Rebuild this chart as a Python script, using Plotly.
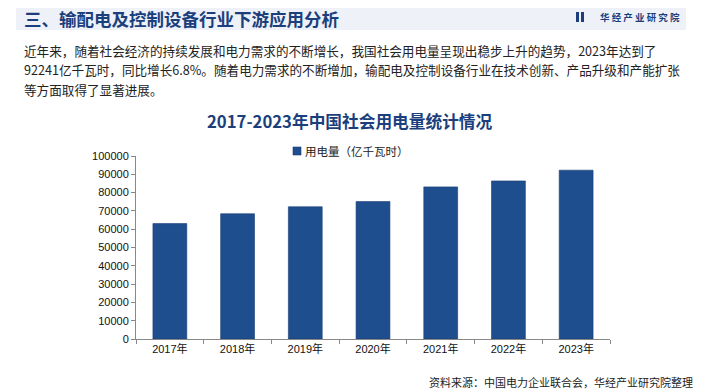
import plotly.graph_objects as go

years = ["2017年", "2018年", "2019年", "2020年", "2021年", "2022年", "2023年"]
consumption = [63077, 68449, 72255, 75110, 83128, 86372, 92241]
series_name = "用电量（亿千瓦时）"
y_ticks = [0, 10000, 20000, 30000, 40000, 50000, 60000, 70000, 80000, 90000, 100000]

header = "三、输配电及控制设备行业下游应用分析"
paragraph = ["近年来，随着社会经济的持续发展和电力需求的不断增长，我国社会用电量呈现出稳步上升的趋势，2023年达到了",
             "92241亿千瓦时，同比增长6.8%。随着电力需求的不断增加，输配电及控制设备行业在技术创新、产品升级和产能扩张",
             "等方面取得了显著进展。"]
chart_title = "2017-2023年中国社会用电量统计情况"
source = "资料来源：中国电力企业联合会，华经产业研究院整理"
brand = "华 经 产 业 研 究 院"

CJK = "Noto Sans CJK SC"
BAR = "#1f4e8f"
DARK = "#1b3f7d"

W, H = 704, 392
OFF = 8  # page body margin offset
# plot area in page pixels
L, R, T, B = 136, 610, 156, 339
PW, PH = R - L, B - T

def px(x):
    return (x - L) / PW

def py(y):
    return (B - y) / PH

fig = go.Figure()
fig.add_trace(go.Bar(x=years, y=consumption, name=series_name,
                     marker=dict(color=BAR, line=dict(color="#173d73", width=0.6)), showlegend=False))

fig.update_layout(
    width=W, height=H,
    margin=dict(l=L - OFF, r=W - (R - OFF), t=T - OFF, b=H - (B - OFF), autoexpand=False),
    paper_bgcolor="white", plot_bgcolor="white",
    bargap=0.5,
    showlegend=False,
    xaxis=dict(showline=True, linecolor="#888", linewidth=1, ticks="outside", ticklen=4, tickcolor="#888",
               tickson="boundaries", tickfont=dict(family="Liberation Sans, " + CJK, size=11, color="#111"),
               showgrid=False, automargin=False),
    yaxis=dict(range=[0, 100000], tickvals=y_ticks, showline=True, linecolor="#888", linewidth=1,
               ticks="outside", ticklen=4, tickcolor="#888", showgrid=False, zeroline=False,
               tickfont=dict(family="Liberation Sans", size=11, color="#111"), tickformat="d",
               ticksuffix=" ", automargin=False),
    font=dict(family=CJK),
)

shapes = [
    # header band
    dict(type="rect", xref="paper", yref="paper", x0=px(16), x1=px(686),
         y0=py(30), y1=py(4), fillcolor="#eef2f8", line=dict(width=0), layer="below"),
    # legend swatch
    dict(type="rect", xref="paper", yref="paper", x0=px(293), x1=px(301),
         y0=py(155), y1=py(147), fillcolor=BAR, line=dict(color="#173d73", width=0.6)),
    # brand icon
    dict(type="rect", xref="paper", yref="paper", x0=px(576), x1=px(579),
         y0=py(22), y1=py(12), fillcolor=DARK, line=dict(width=0)),
    dict(type="rect", xref="paper", yref="paper", x0=px(581), x1=px(584),
         y0=py(22), y1=py(12), fillcolor=DARK, line=dict(width=0)),
]

annos = [
    dict(text=header, x=px(23), y=py(18.5), xanchor="left", yanchor="middle", borderpad=0,
         font=dict(family=CJK, size=17.5, color=DARK, weight="bold")),
    dict(text=brand, x=px(682), y=py(17), xanchor="right", yanchor="middle",
         font=dict(family=CJK, size=9.5, color=DARK, weight="bold")),
    dict(text=chart_title, x=px(350), y=py(121), xanchor="center", yanchor="middle",
         font=dict(family=CJK, size=16.7, color=DARK, weight="bold")),
    dict(text=series_name, x=px(303), y=py(151), xanchor="left", yanchor="middle",
         font=dict(family=CJK, size=11.5, color="#222")),
    dict(text=source, x=px(695), y=py(382), xanchor="right", yanchor="middle",
         font=dict(family=CJK, size=11, color="#222")),
]
for i, line in enumerate(paragraph):
    annos.append(dict(text=line, x=px(22), y=py(50.5 + 19.3 * i), xanchor="left", yanchor="middle",
                      font=dict(family=CJK, size=12.6, color="#222")))
for a in annos:
    a.update(xref="paper", yref="paper", showarrow=False)
fig.update_layout(annotations=annos, shapes=shapes)

fig.write_html("out.html")
